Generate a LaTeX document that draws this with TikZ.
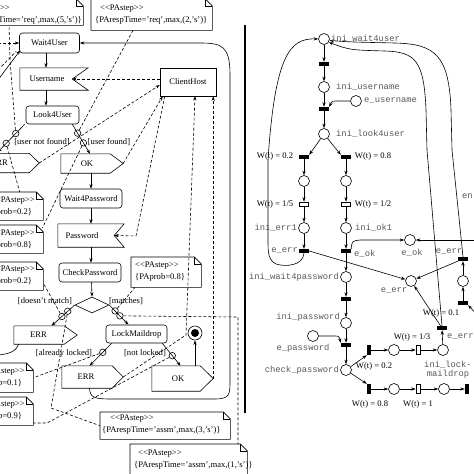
\documentclass[tikz,border=0pt]{standalone}
\usepackage{fontspec}
\setmainfont{Liberation Serif}
\setmonofont{Liberation Mono}
\usetikzlibrary{arrows.meta,calc,shapes.geometric}
\newcommand{\sendshape}[2]{\draw[ln] (#1.north west) -- ($(#1.north east)+(-#2,0)$) -- (#1.east) -- ($(#1.south east)+(-#2,0)$) -- (#1.south west) -- cycle;}
\newcommand{\acceptshape}[2]{\draw[ln] (#1.north west) -- (#1.north east) -- ($(#1.east)+(-#2,0)$) -- (#1.south east) -- (#1.south west) -- cycle;}
\newcommand{\notefold}[1]{\draw[ln,fill=white] (#1.north west) -- ($(#1.north east)+(-7,0)$) -- ($(#1.north east)+(0,7)$) -- (#1.south east) -- (#1.south west) -- cycle;
  \draw[ln] ($(#1.north east)+(-7,0)$) |- ($(#1.north east)+(0,7)$);}
\begin{document}
\begin{tikzpicture}[x=1pt,y=-1pt,
  every node/.style={font=\fontsize{8.6}{10}\selectfont},
  ln/.style={line width=0.6pt},
  arr/.style={ln,-{Stealth[length=4.5pt,width=3.2pt]}},
  dsh/.style={ln,dash pattern=on 3pt off 2pt},
  darr/.style={dsh,-{Stealth[length=4.5pt,width=3.2pt]}},
  act/.style={draw,ln,rounded corners=3pt,inner sep=0pt},
  sig/.style={inner sep=0pt},
  note/.style={inner sep=0pt,align=left,anchor=north west},
  pin/.style={draw,ln,circle,minimum size=6.5pt,inner sep=0pt},
  lbl/.style={inner sep=0pt},
  place/.style={draw,ln,circle,fill=white,minimum size=11pt,inner sep=0pt},
  tr/.style={fill=black,minimum width=10pt,minimum height=4pt,inner sep=0pt},
  trh/.style={draw,fill=white,ln,minimum width=9pt,minimum height=4pt,inner sep=0pt},
  trv/.style={fill=black,minimum width=4pt,minimum height=10pt,inner sep=0pt},
  trvh/.style={draw,fill=white,ln,minimum width=4pt,minimum height=9pt,inner sep=0pt},
  mono/.style={font=\fontsize{8.8}{9}\ttfamily,text=black!65,inner sep=0pt},
  wt/.style={inner sep=0pt},
]
\useasboundingbox[fill=white] (0,0) rectangle (474,474);

% ================= LEFT PANEL =================
% notes
\node[note,minimum width=113pt,minimum height=26pt,text width=110pt] (nTL) at (-30,-1) {};
\notefold{nTL}
\node[lbl,anchor=east] at (10,9) {<{}<PAstep>{}>};
\node[lbl,anchor=east] at (82,20) {\{PArespTime='req',max,(5,'s')\}};
\node[note,minimum width=121pt,minimum height=31pt] (nT2) at (91,-1) {};
\notefold{nT2}
\node[lbl,anchor=west] at (100,9) {<{}<PAstep>{}>};
\node[lbl,anchor=west] at (95,20) {\{PArespTime='req',max,(2,'s')\}};

\node[note,minimum width=65pt,minimum height=28pt] (nA) at (-22,192) {};
\notefold{nA}
\node[lbl,anchor=west] at (-9,201) {<{}<PAstep>{}>};
\node[lbl,anchor=west] at (-18,212) {\{PAprob=0.2\}};
\node[note,minimum width=65pt,minimum height=28pt] (nB) at (-22,225) {};
\notefold{nB}
\node[lbl,anchor=west] at (-9,234) {<{}<PAstep>{}>};
\node[lbl,anchor=west] at (-18,245) {\{PAprob=0.8\}};
\node[note,minimum width=65pt,minimum height=28pt] (nC) at (-22,262) {};
\notefold{nC}
\node[lbl,anchor=west] at (-9,270) {<{}<PAstep>{}>};
\node[lbl,anchor=west] at (-18,281) {\{PAprob=0.2\}};
\node[note,minimum width=65pt,minimum height=29pt] (nD) at (-32,363) {};
\notefold{nD}
\node[lbl,anchor=west] at (-19,372) {<{}<PAstep>{}>};
\node[lbl,anchor=west] at (-28,383) {\{PAprob=0.1\}};
\node[note,minimum width=65pt,minimum height=28pt] (nE) at (-32,397) {};
\notefold{nE}
\node[lbl,anchor=west] at (-19,405) {<{}<PAstep>{}>};
\node[lbl,anchor=west] at (-28,416) {\{PAprob=0.9\}};
\node[note,minimum width=70pt,minimum height=30pt] (nF) at (131,257) {};
\notefold{nF}
\node[lbl,anchor=west] at (135,266) {<{}<PAstep>{}>};
\node[lbl,anchor=west] at (135,277) {\{PAprob=0.8\}};
\node[note,minimum width=130pt,minimum height=27pt] (nG) at (100,412) {};
\notefold{nG}
\node[lbl,anchor=west] at (110,419) {<{}<PAstep>{}>};
\node[lbl,anchor=west] at (102,430) {\{PArespTime='assm',max,(3,'s')\}};
\node[note,minimum width=117pt,minimum height=36pt] (nH) at (130,444) {};
\notefold{nH}
\node[lbl,anchor=west] at (138,454) {<{}<PAstep>{}>};
\node[lbl,anchor=west] at (134,465) {\{PArespTime='assm',max,(1,'s')\}};

% actions
\node[act,minimum width=60pt,minimum height=20pt] (w4u) at (49.5,43) {Wait4User};
\node[sig,minimum width=68pt,minimum height=22pt] (un) at (54,79) {\hspace*{-14pt}Username};
\acceptshape{un}{16}
\node[act,minimum width=53pt,minimum height=18pt] (l4u) at (52.5,115) {Look4User};
\node[sig,minimum width=59pt,minimum height=19pt] (errA) at (9.5,163) {\hspace*{-20pt}ERR};
\sendshape{errA}{10}
\node[sig,minimum width=62pt,minimum height=19pt] (okA) at (92,163.5) {\hspace*{-10pt}OK};
\sendshape{okA}{13}
\node[act,minimum width=62pt,minimum height=19pt] (w4p) at (91,198.5) {Wait4Password};
\node[sig,minimum width=66pt,minimum height=23pt] (pw) at (91,235.5) {\hspace*{-18pt}Password};
\acceptshape{pw}{10}
\node[act,minimum width=62pt,minimum height=19pt] (chk) at (90,272.5) {CheckPassword};
\node[draw,ln,diamond,minimum width=34pt,minimum height=16pt,inner sep=0pt] (dec) at (92,305) {};
\node[sig,minimum width=63pt,minimum height=18pt] (errB) at (45.5,335) {\hspace*{-14pt}ERR};
\sendshape{errB}{13}
\node[act,minimum width=61pt,minimum height=18pt] (lock) at (136.5,334) {LockMaildrop};
\node[sig,minimum width=61pt,minimum height=22pt] (errC) at (92.5,377) {\hspace*{-13pt}ERR};
\sendshape{errC}{11}
\node[sig,minimum width=61pt,minimum height=25pt] (okB) at (182.5,378.5) {\hspace*{-9pt}OK};
\sendshape{okB}{13}
\node[draw,ln,circle,minimum size=14pt,inner sep=0pt] (fin) at (195,333) {};
\fill (fin.center) circle (4pt);
\node[draw,ln,minimum width=56pt,minimum height=28pt,inner sep=0pt] (ch) at (188,82) {ClientHost};

% guards
\node[lbl] at (42,142) {[user not found]};
\node[lbl] at (109,142) {[user found]};
\node[lbl] at (45,301) {[doesn't match]};
\node[lbl] at (126,301) {[matches]};
\node[lbl] at (64,353) {[already locked]};
\node[lbl] at (145,353) {[not locked]};

% control flow
\draw[arr] (w4u.south -| 46,0) -- (un.north -| 46,0);
\draw[arr] (un.south -| 46,0) -- (l4u.north -| 46,0);
\draw[arr] (okA.south -| 91,0) -- (w4p.north -| 91,0);
\draw[arr] (w4p.south -| 91,0) -- (pw.north -| 91,0);
\draw[arr] (pw.south -| 91,0) -- (chk.north -| 91,0);
\draw[arr] (chk.south -| 91.5,0) -- (dec.north);
\draw[arr] ($(l4u.south west)+(-1,0)$) -- node[pin,pos=0.33](pUN1){} node[pin,pos=0.68](pUN2){} ($(errA.north)+(-12,-1)$);
\draw[arr] ($(l4u.south east)+(-7,0)$) -- node[pin,pos=0.3](pUF1){} node[pin,pos=0.63](pUF2){} ($(okA.north)+(-2,0)$);
\draw[arr] (dec.west) -- node[pin,pos=0.3](pDM1){} node[pin,pos=0.55](pDM2){} ($(errB.north)+(6,0)$);
\draw[arr] (dec.east) -- node[pin,pos=0.3](pM1){} node[pin,pos=0.55](pM2){} ($(lock.north)+(-8,0)$);
\draw[arr] ($(lock.south west)+(6,0)$) -- node[pin,pos=0.4](pAL){} ($(errC.north)+(-3,0)$);
\draw[arr] ($(lock.south east)+(-5,0)$) -- node[pin,pos=0.55](pNL){} ($(okB.north)+(-2,0)$);
\draw[arr] (okB.north -| fin.south) -- (fin.south);
\draw[arr] ($(errC.south)+(-3,0)$) .. controls (90,398) and (95,399) .. (112,399) -- (214,399)
   .. controls (230,399) and (230,395) .. (230,380) -- (230,75) .. controls (230,46) and (222,43) .. (200,43) -- (w4u.east);
\draw[ln] ($(errB.south west)+(5,0)$) .. controls (16,351) and (10,354) .. (-2,355);
\coordinate (edgeL1) at (-2,43);
\coordinate (edgeL2) at (-2,80);
\coordinate (edgeL3) at (-2,70);
\draw[darr] (edgeL1) -- (w4u.west);
\draw[arr] (edgeL2) -- ($(w4u.south west)+(1,-3)$);
\draw[dsh] (edgeL3) -- ($(w4u.south west)+(-3,-2)$);

% object flow / dependencies (dashed)
\draw[darr] (ch.west |- un.east) -- ($(un.east)+(-16,0)$);
\draw[darr] (errA.east) -- ($(ch.west)+(0,3)$);
\draw[darr] (okA.east) -- ($(ch.south west)+(3,0)$);
\draw[darr] ($(ch.south west)+(5,0)$) -- (136,236) -- ($(pw.east)+(-10,0)$);
\draw[darr] (okB.east) -- (okB.east |- ch.south);
\draw[darr] (errC.east) -- (186,335) -- (195,96);
\draw[dsh] ($(nT2.south west)+(42,0)$) -- (pUF1);
\draw[dsh] (pUN2) -- ($(nA.north)+(9,0)$);
\draw[dsh] (pUN1) -- (10,60) -- (9,25);
\draw[dsh] (pUF2) -- ($(nB.north east)+(-1,3)$);
\draw[dsh] (pDM2) -- ($(nC.south east)+(0,-7)$);
\draw[dsh] (pM1) -- ($(nF.south west)+(4,0)$);
\draw[dsh] (pAL) -- (nD.east);
\draw[dsh] (pNL) -- (47,423) -- (nE.east |- 0,423);
\draw[dsh] (pDM1) -- (51,408) -- (nG.west);
\draw[dsh] (pM2) -- (238,317) -- (238,444);

% separator
\draw[line width=1.6pt] (245,25) -- (245,413);

% ================= RIGHT PANEL (Petri net) =================
\node[place] (Pw4u) at (324,39) {};
\node[tr] (T1) at (324,64) {};
\node[place] (Pun) at (324,87) {};
\node[place] (Peun) at (356,101) {};
\node[tr] (T2) at (324,109) {};
\node[place] (Pl4u) at (324,134) {};
\node[tr] (Ta) at (304,157) {};
\node[tr] (Tb) at (346,157) {};
\node[place] (Pa) at (304,181) {};
\node[place] (Pb) at (346,181) {};
\node[trh] (Ha) at (304,204) {};
\node[trh] (Hb) at (346,204) {};
\node[place] (Perr1) at (304,228) {};
\node[place] (Pok1) at (346,228) {};
\node[tr] (Terr) at (304,251) {};
\node[tr] (Tok) at (346,251) {};
\node[place] (Peok) at (410,240) {};
\node[place] (Peerr) at (411,281) {};
\node[place] (Pw4p) at (346,277) {};
\node[tr] (Tw4p) at (346,299) {};
\node[place] (Ppw) at (346,323) {};
\node[place] (Pepw) at (313,336) {};
\node[tr] (Tpw) at (346,345) {};
\node[place] (Pchk) at (346,370) {};
\node[trv] (Tu) at (369,350) {};
\node[place] (Pu1) at (394,350) {};
\node[trvh] (Hu) at (418,350) {};
\node[place] (Plm) at (443,350) {};
\node[tr] (Tlm) at (442,328) {};
\node[trv] (Td) at (369,389) {};
\node[place] (Pd1) at (394,389) {};
\node[trvh] (Hd) at (418,389) {};
\node[place] (Pd2) at (444,389) {};
\node[trv] (Tend) at (467,389) {};
\node[tr] (Tr1) at (463,259) {};
\node[place] (Pr1) at (463,281) {};
\node[tr] (Tr2) at (463,303) {};

\coordinate (edgeR1) at (476,240);
\coordinate (edgeR2) at (480,318);

\draw[arr] (Pw4u) -- (T1);
\draw[arr] (T1) -- (Pun);
\draw[arr] (Pun) -- (T2);
\draw[arr] (Peun.west) -- (338,101) .. controls (332,101) .. (T2.north east);
\draw[arr] (T2) -- (Pl4u);
\draw[arr] (Pl4u) -- (Ta.north east);
\draw[arr] (Pl4u) -- (Tb.north west);
\draw[arr] (Ta) -- (Pa);
\draw[arr] (Pa) -- (Ha);
\draw[arr] (Ha) -- (Perr1);
\draw[arr] (Perr1) -- (Terr);
\draw[arr] (Tb) -- (Pb);
\draw[arr] (Pb) -- (Hb);
\draw[arr] (Hb) -- (Pok1);
\draw[arr] (Pok1) -- (Tok);
\draw[arr] (Terr.east) -- (Peerr);
\draw[arr] (Terr.south) .. controls (303,266) and (285,267) .. (276,264) .. controls (268,260) and (268,252) .. (268,240)
   -- (268,160) .. controls (275,55) and (290,38) .. (Pw4u.west);
\draw[arr] (Tok.north east) .. controls (352,241) .. (360,240) -- (Peok.west);
\draw[arr] (edgeR1) -- (Peok.east);
\draw[arr] (Tok) -- (Pw4p);
\draw[arr] (Pw4p) -- (Tw4p);
\draw[arr] (Tw4p) -- (Ppw);
\draw[arr] (Ppw) -- (Tpw);
\draw[arr] (Pepw.east) -- (334,336) .. controls (339,336) .. (Tpw.north west);
\draw[arr] (Tpw) -- (Pchk);
\draw[arr] (Pchk) -- (Tu.south west);
\draw[arr] (Pchk) -- (Td.north west);
\draw[arr] (Tu) -- (Pu1);
\draw[arr] (Pu1) -- (Hu);
\draw[arr] (Hu) -- (Plm);
\draw[arr] (Plm) -- (Tlm);
\draw[arr] (Tlm) -- (Peerr);
\draw[arr] (Td) -- (Pd1);
\draw[arr] (Pd1) -- (Hd);
\draw[arr] (Hd) -- (Pd2);
\draw[arr] (Pd2) -- (Tend);
\draw[arr] (Tr1) -- (Peerr);
\draw[arr] (Pr1) -- (Tr1);
\draw[arr] (Tr2) -- (Pr1);
\draw[arr] (edgeR2) -- (Tr2.south east);
\draw[arr] (Tlm.north) -- (427,150) -- (426,110) .. controls (424,60) and (415,52) .. (385,51) .. controls (350,50) .. (Pw4u.-35);
\draw[arr] (Tr1.north) -- (452,150) -- (451,110) .. controls (449,55) and (435,44) .. (395,43) .. controls (350,42) .. (Pw4u.-15);

% labels
\node[mono,anchor=west] at (331,39) {ini\_wait4user};
\node[mono,anchor=west] at (336,87) {ini\_username};
\node[mono,anchor=west] at (364,101) {e\_username};
\node[mono,anchor=west] at (336,134) {ini\_look4user};
\node[mono,anchor=east] at (297,228) {ini\_err1};
\node[mono,anchor=west] at (355,228) {ini\_ok1};
\node[mono,anchor=east] at (298,251) {e\_err};
\node[mono,anchor=west] at (354,254) {e\_ok};
\node[mono] at (412,253) {e\_ok};
\node[mono] at (394,291) {e\_err};
\node[mono,anchor=east] at (339,277) {ini\_wait4password};
\node[mono] at (449,252) {e\_err};
\node[mono,anchor=west] at (462,196) {en};
\node[mono,anchor=west] at (447,337) {e\_err};
\node[mono,anchor=east] at (340,317) {ini\_password};
\node[mono] at (303,348) {e\_password};
\node[mono,anchor=east] at (339,370) {check\_password};
\node[mono,align=center] at (448,370) {ini\_lock-\\maildrop};
\node[wt] at (275,156) {W(t) = 0.2};
\node[wt] at (373,156) {W(t) = 0.8};
\node[wt] at (275,204) {W(t) = 1/5};
\node[wt] at (373,204) {W(t) = 1/2};
\node[wt] at (441,313) {W(t) = 0.1};
\node[wt] at (374,366) {W(t) = 0.2};
\node[wt] at (412,337) {W(t) = 1/3};
\node[wt] at (370,404) {W(t) = 0.8};
\node[wt] at (418,404) {W(t) = 1};
\end{tikzpicture}
\end{document}
